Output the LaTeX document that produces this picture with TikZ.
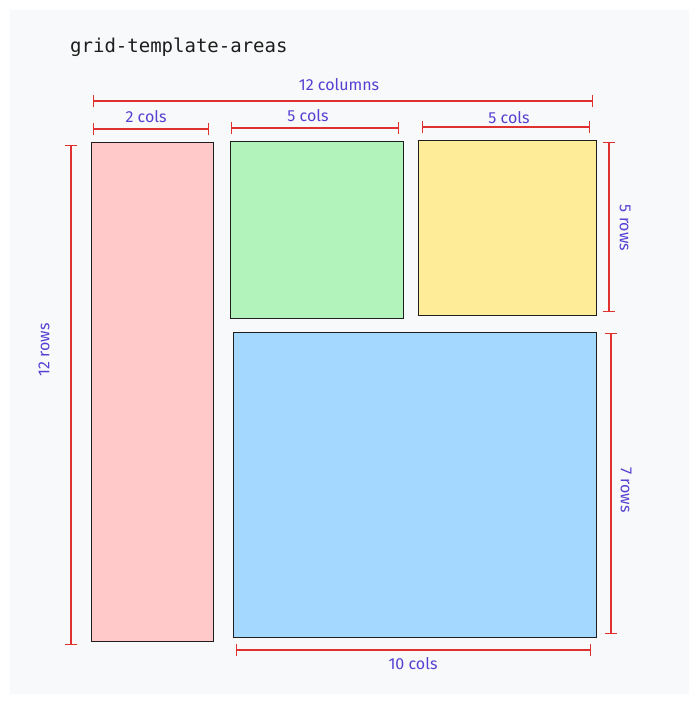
\documentclass[tikz,border=0pt]{standalone}
\usepackage{fontspec}
\setmainfont{Fira Sans}
\newfontfamily\titlefont{DejaVu Sans Mono}
\usetikzlibrary{arrows.meta}
\definecolor{bgc}{RGB}{248,249,250}
\definecolor{ink}{RGB}{30,30,30}
\definecolor{dimred}{RGB}{224,49,49}
\definecolor{labc}{RGB}{86,64,210}
\definecolor{cpink}{RGB}{255,201,201}
\definecolor{cgreen}{RGB}{178,242,187}
\definecolor{cyellow}{RGB}{255,236,153}
\definecolor{cblue}{RGB}{165,216,255}
\begin{document}
\begin{tikzpicture}[x=1pt,y=1pt,
  area/.style={draw=ink, line width=1pt, anchor=north west, inner sep=0pt, outer sep=0pt},
  dimline/.style={draw=dimred, line width=1.1pt, {Bar[width=12pt]}-{Bar[width=12pt]}},
  lab/.style={text=labc, font=\fontsize{16}{18}\selectfont, inner sep=1pt},
]
\useasboundingbox (0,0) rectangle (699,-704);
\fill[white] (0,0) rectangle (699,-704);
\fill[bgc] (10,-10) rectangle (689,-694);
\node[anchor=west, text=ink, font=\titlefont\fontsize{19}{22}\selectfont, inner sep=0pt] (title) at (70,-47) {grid-template-areas};
% areas
\node[area, fill=cpink, minimum width=122pt, minimum height=499pt] (pink) at (91,-142) {};
\node[area, fill=cgreen, minimum width=173pt, minimum height=177pt] (green) at (230,-141) {};
\node[area, fill=cyellow, minimum width=178pt, minimum height=175pt] (yellow) at (418,-140) {};
\node[area, fill=cblue, minimum width=363pt, minimum height=305pt] (blue) at (233,-332) {};
% dimension coordinates
\coordinate (c12a) at (93,-101); \coordinate (c12b) at (593,-101);
\coordinate (c2a) at (93,-129); \coordinate (c2b) at (209,-129);
\coordinate (c5a) at (231,-128); \coordinate (c5b) at (399,-128);
\coordinate (c5c) at (422,-127); \coordinate (c5d) at (590,-127);
\coordinate (r12a) at (71,-145); \coordinate (r12b) at (71,-645);
\coordinate (r5a) at (609,-142); \coordinate (r5b) at (609,-312);
\coordinate (r7a) at (611,-333); \coordinate (r7b) at (611,-634);
\coordinate (c10a) at (236,-650); \coordinate (c10b) at (591,-650);
\draw[dimline] (c12a) -- (c12b);
\draw[dimline] (c2a) -- (c2b);
\draw[dimline] (c5a) -- (c5b);
\draw[dimline] (c5c) -- (c5d);
\draw[dimline] (r12a) -- (r12b);
\draw[dimline] (r5a) -- (r5b);
\draw[dimline] (r7a) -- (r7b);
\draw[dimline] (c10a) -- (c10b);
% labels
\node[lab] (l12c) at (339,-85) {12 columns};
\node[lab] (l2c) at (146,-117) {2 cols};
\node[lab] (l5c) at (308,-116) {5 cols};
\node[lab] (l5d) at (509,-118) {5 cols};
\node[lab] (l10c) at (413,-664) {10 cols};
\node[lab, rotate=90] (l12r) at (44,-350) {12 rows};
\node[lab, rotate=-90] (l5r) at (625,-228) {5 rows};
\node[lab, rotate=-90] (l7r) at (626,-490) {7 rows};
\end{tikzpicture}
\end{document}
